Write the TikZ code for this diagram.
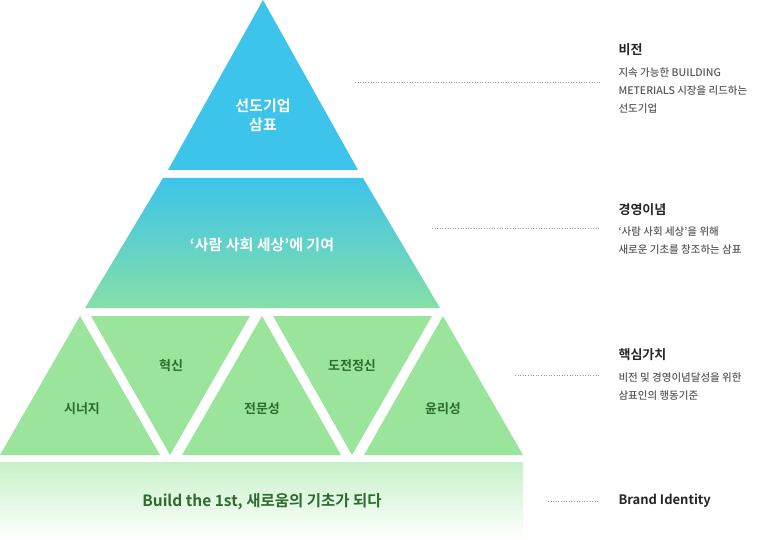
\documentclass[tikz,border=0pt]{standalone}
\usepackage{fontspec}
\setmainfont{Noto Sans CJK KR}
\newfontfamily\kb{Noto Sans CJK KR Bold}
\newfontfamily\km{Noto Sans CJK KR Medium}
\begin{document}
\begin{tikzpicture}[x=1pt,y=-1pt,
  tri/.style={fill=green3},
  wlab/.style={text=white,font=\kb\fontsize{15}{19}\selectfont,align=center},
  glab/.style={text=dgreen,font=\kb\fontsize{13}{16}\selectfont},
  ttl/.style={anchor=west,font=\kb\fontsize{13}{16}\selectfont,text=black!85},
  dsc/.style={anchor=north west,font=\km\fontsize{10.5}{18}\selectfont,text=black!65,align=left},
  lead/.style={draw=black!40,dotted,line width=0.6pt}]
\definecolor{cyan1}{HTML}{3CC4EA}
\definecolor{green2}{HTML}{86DFA8}
\definecolor{green3}{HTML}{9AE59B}
\definecolor{dgreen}{HTML}{2E6B2E}
\useasboundingbox (0,0) rectangle (768,540);
\fill[cyan1] (263,0) -- (358,170) -- (168,170) -- cycle;
\node[wlab] (t1) at (263,115) {선도기업\\삼표};
\shade[top color=cyan1,bottom color=green2] (163,178) -- (363,178) -- (440,308) -- (85,308) -- cycle;
\node[wlab] (t2) at (262,245) {‘사람 사회 세상’에 기여};
\fill[tri] (0,455) -- (80,316) -- (160,455) -- cycle;
\fill[tri] (91,316) -- (250,316) -- (170,455) -- cycle;
\fill[tri] (182,455) -- (262,316) -- (341,455) -- cycle;
\fill[tri] (273,316) -- (432,316) -- (352,455) -- cycle;
\fill[tri] (364,455) -- (443,316) -- (523,455) -- cycle;
\node[glab] (v1) at (82,409) {시너지};
\node[glab] (v2) at (171,366) {혁신};
\node[glab] (v3) at (262,409) {전문성};
\node[glab] (v4) at (352,366) {도전정신};
\node[glab] (v5) at (443,409) {윤리성};
\shade[top color=green3!55,bottom color=white] (0,462) rectangle (523,540);
\node[text=dgreen,font=\kb\fontsize{15.5}{19}\selectfont] (b) at (262,502) {Build the 1st, 새로움의 기초가 되다};
% right side
\node[ttl] (h1) at (615,50) {비전};
\node[dsc] (d1) at (615,64) {지속 가능한 BUILDING\\METERIALS 시장을 리드하는\\선도기업};
\node[ttl] (h2) at (615,210) {경영이념};
\node[dsc] (d2) at (615,223) {‘사람 사회 세상’을 위해\\새로운 기초를 창조하는 삼표};
\node[ttl] (h3) at (615,355) {핵심가치};
\node[dsc] (d3) at (615,369) {비전 및 경영이념달성을 위한\\삼표인의 행동기준};
\node[ttl] (h4) at (615,501) {Brand Identity};
\coordinate (l1) at (355,82); \coordinate (r1) at (600,82);
\coordinate (l2) at (432,228); \coordinate (r2) at (600,228);
\coordinate (l3) at (515,375); \coordinate (r3) at (600,375);
\coordinate (l4) at (548,501); \coordinate (r4) at (600,501);
\draw[lead] (l1) -- (r1); \draw[lead] (l2) -- (r2);
\draw[lead] (l3) -- (r3); \draw[lead] (l4) -- (r4);
\end{tikzpicture}
\end{document}
